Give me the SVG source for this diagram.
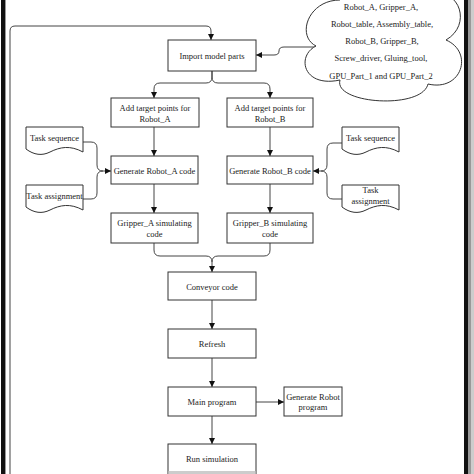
<svg xmlns="http://www.w3.org/2000/svg" width="474" height="474" viewBox="0 0 474 474">
<style>
.box{fill:#fff;stroke:#333;stroke-width:1}
.t{font-family:"Liberation Serif","Times New Roman",serif;font-size:8.5px;fill:#222;text-anchor:middle}
.c{fill:none;stroke:#444;stroke-width:1}
</style>
<defs>
<marker id="ah" markerWidth="6" markerHeight="6" refX="6" refY="3" orient="auto" markerUnits="userSpaceOnUse">
<path d="M0,0 L6,3 L0,6 Z" fill="#111"/>
</marker>
</defs>
<rect x="0" y="0" width="474" height="474" fill="#fff"/>
<g id="frame">
<rect x="1" y="0" width="4" height="474" fill="#111"/>
<line x1="5.5" y1="0" x2="5.5" y2="474" stroke="#999" stroke-width="1"/>
<rect x="464" y="0" width="4" height="474" fill="#111"/>
<rect x="468" y="0" width="3" height="474" fill="#999"/>
<rect x="471" y="0" width="3" height="474" fill="#ccc"/>
</g>
<g id="connectors">
<path class="c" d="M10,474 V31 Q10,26 15,26 H206 Q211,26 211,31 V40" marker-end="url(#ah)"/>
<path class="c" d="M315,47 H284 Q279,47 279,51 Q279,55 274,55 H256" marker-end="url(#ah)"/>
<path class="c" d="M212,71 V77 Q212,83 206,83 H160 Q154,83 154,89 V98" marker-end="url(#ah)"/>
<path class="c" d="M212,71 V77 Q212,83 218,83 H264 Q270,83 270,89 V98" marker-end="url(#ah)"/>
<path class="c" d="M154,127 V156" marker-end="url(#ah)"/>
<path class="c" d="M270,127 V156" marker-end="url(#ah)"/>
<path class="c" d="M83,142 H91 Q97,142 97,148 V165 Q97,171 103,171 H111" marker-end="url(#ah)"/>
<path class="c" d="M83,199 H91 Q97,199 97,193 V177 Q97,171 103,171"/>
<path class="c" d="M342,143 H333 Q327,143 327,149 V165 Q327,171 321,171 H313" marker-end="url(#ah)"/>
<path class="c" d="M342,199 H333 Q327,199 327,193 V177 Q327,171 321,171"/>
<path class="c" d="M154,184 V213" marker-end="url(#ah)"/>
<path class="c" d="M270,184 V213" marker-end="url(#ah)"/>
<path class="c" d="M154,243 V250 Q154,256 160,256 H206 Q212,256 212,262 V272" marker-end="url(#ah)"/>
<path class="c" d="M270,243 V250 Q270,256 264,256 H218 Q212,256 212,262"/>
<path class="c" d="M212,300 V329" marker-end="url(#ah)"/>
<path class="c" d="M212,358 V387" marker-end="url(#ah)"/>
<path class="c" d="M256,402 H284" marker-end="url(#ah)"/>
<path class="c" d="M212,416 V444" marker-end="url(#ah)"/>
</g>
<g id="cloud">
<path class="box" d="M340,80 C333,104 422,110 428,84 C462,92 474,52 446,40 C472,25 460,-12 432,-6 C420,-28 350,-26 340,0 C308,0 296,36 316,46 C296,56 303,88 340,80 Z"/>
<text class="t" x="381" y="10">Robot_A, Gripper_A,</text>
<text class="t" x="382" y="27">Robot_table, Assembly_table,</text>
<text class="t" x="382" y="44">Robot_B, Gripper_B,</text>
<text class="t" x="381" y="61">Screw_driver, Gluing_tool,</text>
<text class="t" x="381" y="79">GPU_Part_1 and GPU_Part_2</text>
</g>
<g id="import">
<rect class="box" x="168" y="40" width="88" height="31"/>
<text class="t" x="212" y="58.5">Import model parts</text>
</g>
<g id="addA">
<rect class="box" x="111" y="98" width="88" height="29"/>
<text class="t" x="155" y="111">Add target points for</text>
<text class="t" x="155" y="121.5">Robot_A</text>
</g>
<g id="addB">
<rect class="box" x="227" y="98" width="86" height="29"/>
<text class="t" x="270" y="111">Add target points for</text>
<text class="t" x="270" y="121.5">Robot_B</text>
</g>
<g id="genA">
<rect class="box" x="111" y="156" width="87" height="28"/>
<text class="t" x="154.5" y="173.5">Generate Robot_A code</text>
</g>
<g id="genB">
<rect class="box" x="227" y="156" width="86" height="28"/>
<text class="t" x="270" y="173.5">Generate Robot_B code</text>
</g>
<g id="gripA">
<rect class="box" x="111" y="213" width="87" height="30"/>
<text class="t" x="154.5" y="226">Gripper_A simulating</text>
<text class="t" x="154.5" y="237">code</text>
</g>
<g id="gripB">
<rect class="box" x="227" y="213" width="86" height="30"/>
<text class="t" x="270" y="226">Gripper_B simulating</text>
<text class="t" x="270" y="237">code</text>
</g>
<g id="taskSeqA">
<path class="box" d="M26,127 H83 V152 C70,145 60,147 50,152 C42,156 34,155 26,149 Z"/>
<text class="t" x="54.5" y="140.5">Task sequence</text>
</g>
<g id="taskAsgA">
<path class="box" d="M26,185 H83 V210 C70,203 60,205 50,210 C42,214 34,213 26,207 Z"/>
<text class="t" x="54.5" y="198.5">Task assignment</text>
</g>
<g id="taskSeqB">
<path class="box" d="M342,127 H399 V152 C386,145 376,147 366,152 C358,156 350,155 342,149 Z"/>
<text class="t" x="370.5" y="140.5">Task sequence</text>
</g>
<g id="taskAsgB">
<path class="box" d="M342,185 H399 V210 C386,203 376,205 366,210 C358,214 350,213 342,207 Z"/>
<text class="t" x="370.5" y="193">Task</text>
<text class="t" x="370.5" y="203.5">assignment</text>
</g>
<g id="conveyor">
<rect class="box" x="168" y="272" width="88" height="28"/>
<text class="t" x="212" y="289.5">Conveyor code</text>
</g>
<g id="refresh">
<rect class="box" x="168" y="329" width="88" height="29"/>
<text class="t" x="212" y="346.5">Refresh</text>
</g>
<g id="main">
<rect class="box" x="168" y="387" width="88" height="29"/>
<text class="t" x="212" y="404.5">Main program</text>
</g>
<g id="genProg">
<rect class="box" x="284" y="387" width="58" height="29"/>
<text class="t" x="313" y="399.5">Generate Robot</text>
<text class="t" x="313" y="410">program</text>
</g>
<g id="run">
<rect class="box" x="168" y="444" width="88" height="36"/>
<rect x="168.5" y="471" width="87" height="3" fill="#ccc"/>
<text class="t" x="212" y="461.5">Run simulation</text>
</g>
</svg>
